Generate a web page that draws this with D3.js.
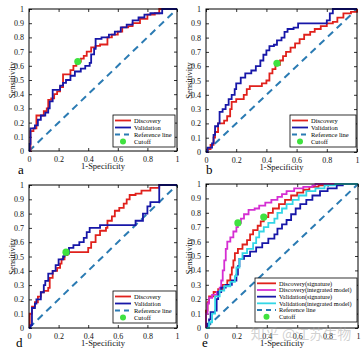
<!DOCTYPE html>
<html><head><meta charset="utf-8">
<script src="https://cdn.jsdelivr.net/npm/d3@7"></script>
<style>body{margin:0;background:#fff}svg{display:block}</style>
</head><body><svg id="c" width="364" height="356"></svg>
<script>
// ---- data ----
const panelLetters = ["a","b","d","e"];
const xTicks = [0,0.2,0.4,0.6,0.8,1];
const yTicks = [0,0.1,0.2,0.3,0.4,0.5,0.6,0.7,0.8,0.9,1];
const xTitle = "1-Specificity";
const yTitle = "Sensitivity";
const legendABD = ["Discovery","Validation","Reference line","Cutoff"];
const legendE = ["Discovery(signature)","Discovery(integrated model)","Validation(signature)","Validation(integrated model)","Reference line","Cutoff"];

const aDiscovery = [[0,0],[0.01,0.14],[0.03,0.16],[0.05,0.25],[0.09,0.25],[0.10,0.28],[0.12,0.30],[0.13,0.36],[0.15,0.37],[0.17,0.40],[0.19,0.42],[0.21,0.45],[0.23,0.54],[0.27,0.54],[0.28,0.57],[0.30,0.60],[0.32,0.63],[0.35,0.65],[0.37,0.67],[0.39,0.70],[0.42,0.73],[0.45,0.74],[0.48,0.75],[0.52,0.75],[0.53,0.80],[0.56,0.82],[0.60,0.84],[0.63,0.87],[0.67,0.88],[0.70,0.90],[0.75,0.93],[0.80,0.96],[0.85,0.97],[0.88,1.0],[1,1]];
const aValidation = [[0,0],[0.005,0.05],[0.01,0.16],[0.04,0.18],[0.06,0.22],[0.08,0.25],[0.11,0.27],[0.13,0.30],[0.14,0.35],[0.16,0.43],[0.20,0.43],[0.21,0.46],[0.23,0.48],[0.25,0.50],[0.28,0.53],[0.31,0.56],[0.35,0.58],[0.38,0.60],[0.41,0.62],[0.42,0.68],[0.44,0.72],[0.45,0.79],[0.49,0.80],[0.54,0.82],[0.58,0.84],[0.62,0.87],[0.66,0.89],[0.70,0.92],[0.74,0.94],[0.78,0.96],[0.82,0.97],[0.90,1.0],[1,1]];
const aCutoff = [[0.33,0.63]];

const bDiscovery = [[0,0],[0.01,0.02],[0.03,0.05],[0.05,0.10],[0.06,0.14],[0.08,0.20],[0.12,0.22],[0.14,0.25],[0.16,0.30],[0.17,0.35],[0.20,0.37],[0.24,0.37],[0.25,0.40],[0.27,0.44],[0.29,0.46],[0.34,0.46],[0.37,0.48],[0.40,0.50],[0.42,0.55],[0.44,0.58],[0.46,0.61],[0.49,0.64],[0.51,0.67],[0.53,0.70],[0.56,0.73],[0.59,0.76],[0.62,0.79],[0.65,0.82],[0.69,0.84],[0.72,0.86],[0.76,0.88],[0.80,0.90],[0.84,0.91],[0.87,0.94],[0.91,0.97],[0.96,0.98],[1,1]];
const bValidation = [[0,0],[0.01,0.03],[0.04,0.06],[0.05,0.12],[0.06,0.18],[0.08,0.20],[0.09,0.28],[0.11,0.30],[0.13,0.33],[0.15,0.37],[0.17,0.40],[0.19,0.44],[0.20,0.48],[0.23,0.52],[0.26,0.55],[0.30,0.57],[0.33,0.60],[0.36,0.64],[0.38,0.68],[0.40,0.71],[0.42,0.74],[0.45,0.75],[0.47,0.78],[0.50,0.80],[0.52,0.84],[0.54,0.86],[0.58,0.87],[0.61,0.90],[0.78,0.90],[0.80,0.92],[0.82,0.97],[0.84,1.0],[1,1]];
const bCutoff = [[0.47,0.62]];

const dDiscovery = [[0,0],[0.005,0.10],[0.02,0.15],[0.04,0.18],[0.06,0.22],[0.08,0.25],[0.10,0.26],[0.13,0.28],[0.14,0.35],[0.16,0.40],[0.19,0.42],[0.21,0.45],[0.22,0.48],[0.24,0.51],[0.26,0.53],[0.38,0.53],[0.40,0.56],[0.42,0.60],[0.45,0.65],[0.48,0.68],[0.52,0.70],[0.53,0.75],[0.56,0.78],[0.58,0.82],[0.61,0.84],[0.64,0.87],[0.66,0.90],[0.68,0.93],[0.72,0.94],[0.76,0.96],[0.82,0.98],[0.88,1.0],[1,1]];
const dValidation = [[0,0],[0.01,0.02],[0.02,0.14],[0.04,0.17],[0.05,0.20],[0.08,0.25],[0.10,0.30],[0.11,0.33],[0.13,0.38],[0.16,0.40],[0.18,0.44],[0.20,0.48],[0.23,0.50],[0.24,0.52],[0.27,0.56],[0.30,0.58],[0.34,0.60],[0.37,0.63],[0.39,0.67],[0.41,0.70],[0.46,0.70],[0.48,0.72],[0.70,0.72],[0.72,0.75],[0.76,0.75],[0.77,0.80],[0.80,0.85],[0.82,0.88],[0.88,0.88],[0.88,1.0],[1,1]];
const dCutoff = [[0.25,0.53]];

const eDiscSignature = [[0,0],[0,0.12],[0.01,0.18],[0.02,0.22],[0.05,0.25],[0.08,0.27],[0.11,0.30],[0.14,0.33],[0.16,0.37],[0.17,0.42],[0.18,0.47],[0.19,0.52],[0.21,0.55],[0.24,0.58],[0.27,0.61],[0.29,0.65],[0.31,0.68],[0.34,0.71],[0.36,0.74],[0.38,0.77],[0.41,0.80],[0.44,0.83],[0.48,0.86],[0.52,0.89],[0.56,0.92],[0.60,0.94],[0.64,0.96],[0.68,0.98],[0.74,0.99],[0.78,1.0],[1,1]];
const eDiscIntegrated = [[0,0],[0,0.10],[0.01,0.17],[0.02,0.21],[0.04,0.23],[0.07,0.25],[0.09,0.28],[0.10,0.33],[0.11,0.40],[0.12,0.47],[0.13,0.55],[0.14,0.60],[0.16,0.63],[0.18,0.67],[0.20,0.70],[0.21,0.73],[0.23,0.76],[0.25,0.79],[0.28,0.82],[0.32,0.83],[0.35,0.85],[0.39,0.87],[0.43,0.89],[0.47,0.91],[0.50,0.93],[0.53,0.95],[0.58,0.97],[0.64,0.98],[0.70,0.99],[0.72,1.0],[1,1]];
const eValSignature = [[0,0],[0.01,0.03],[0.02,0.06],[0.03,0.11],[0.06,0.12],[0.07,0.20],[0.08,0.25],[0.10,0.28],[0.13,0.30],[0.17,0.33],[0.20,0.37],[0.21,0.43],[0.22,0.48],[0.25,0.50],[0.29,0.53],[0.33,0.56],[0.37,0.59],[0.41,0.62],[0.45,0.65],[0.47,0.69],[0.50,0.72],[0.53,0.75],[0.56,0.79],[0.59,0.83],[0.62,0.86],[0.66,0.89],[0.70,0.92],[0.75,0.95],[0.80,0.97],[0.86,0.99],[0.90,1.0],[1,1]];
const eValIntegrated = [[0,0],[0.02,0.04],[0.04,0.10],[0.06,0.22],[0.09,0.26],[0.12,0.29],[0.16,0.32],[0.19,0.36],[0.20,0.42],[0.22,0.48],[0.24,0.52],[0.27,0.55],[0.31,0.59],[0.33,0.63],[0.35,0.67],[0.38,0.70],[0.41,0.73],[0.45,0.76],[0.47,0.80],[0.50,0.83],[0.53,0.86],[0.57,0.89],[0.61,0.92],[0.66,0.95],[0.72,0.97],[0.78,0.99],[0.85,1.0],[1,1]];
const eCutoff = [[0.21,0.73],[0.38,0.77]];
const referenceLine = [[0,0],[1,1]];
const watermark = "知乎 @江苏生物";

// ---- styles ----
const RED="#e0211c", BLUE="#1717a8", MAG="#d52ed2", CYAN="#33d6e6", REF="#2b7bb3", GREEN="#3fe23f";
const FONT="'Liberation Serif','Times New Roman',serif";

const panels = [
  {letter:panelLetters[0], box:[29,9,148,142], series:[aDiscovery,aValidation], colors:[RED,BLUE], cut:aCutoff, legend:legendABD, lbox:[113,115,62,32], lx:[18,174]},
  {letter:panelLetters[1], box:[206,9,151,143], series:[bDiscovery,bValidation], colors:[RED,BLUE], cut:bCutoff, legend:legendABD, lbox:[290,115,66,32], lx:[206,174]},
  {letter:panelLetters[2], box:[29,185,148,143], series:[dDiscovery,dValidation], colors:[RED,BLUE], cut:dCutoff, legend:legendABD, lbox:[113,291,63,32], lx:[16,347]},
  {letter:panelLetters[3], box:[206,184,152,144], series:[eDiscSignature,eDiscIntegrated,eValSignature,eValIntegrated], colors:[RED,MAG,BLUE,CYAN], cut:eCutoff, legend:legendE, lbox:[255,278,102,44], lx:[202,347]}
];

const svg = d3.select("#c");

panels.forEach(p=>{
  const [L,T,W,H] = p.box;
  const x = d3.scaleLinear().domain([0,1]).range([L,L+W]);
  const y = d3.scaleLinear().domain([0,1]).range([T+H,T]);
  const g = svg.append("g");

  const fmt = d=> d===0?"0":d===1?"1":d3.format(".1f")(d);
  g.append("g").attr("transform",`translate(0,${T+H})`)
    .call(d3.axisBottom(x).tickValues(xTicks).tickFormat(fmt).tickSizeInner(-3).tickSizeOuter(0).tickPadding(5));
  g.append("g").attr("transform",`translate(${L},0)`)
    .call(d3.axisLeft(y).tickValues(yTicks).tickFormat(fmt).tickSizeInner(-3).tickSizeOuter(0).tickPadding(5));
  g.append("g").attr("transform",`translate(0,${T})`)
    .call(d3.axisTop(x).tickValues(xTicks).tickFormat("").tickSizeInner(-3).tickSizeOuter(0));
  g.append("g").attr("transform",`translate(${L+W},0)`)
    .call(d3.axisRight(y).tickValues(yTicks).tickFormat("").tickSizeInner(-3).tickSizeOuter(0));
  g.selectAll(".domain").remove();
  g.selectAll(".tick line").attr("stroke","#000").attr("stroke-width",0.8);
  g.selectAll(".tick text").attr("font-family",FONT).attr("font-size",8).attr("fill","#111");

  const line = d3.line().x(d=>x(d[0])).y(d=>y(d[1]));
  g.append("path").attr("d",line(referenceLine)).attr("fill","none")
    .attr("stroke",REF).attr("stroke-width",2).attr("stroke-dasharray","7,5");

  const step = d3.line().x(d=>x(d[0])).y(d=>y(d[1])).curve(d3.curveStepAfter);
  p.series.forEach((s,i)=>{
    g.append("path").attr("d",step(s)).attr("fill","none")
      .attr("stroke",p.colors[i]).attr("stroke-width",1.8);
  });
  g.selectAll(".cut").data(p.cut).enter().append("circle")
    .attr("cx",d=>x(d[0])).attr("cy",d=>y(d[1])).attr("r",3.6).attr("fill",GREEN);

  g.append("rect").attr("x",L).attr("y",T).attr("width",W).attr("height",H)
    .attr("fill","none").attr("stroke","#000").attr("stroke-width",1);

  g.append("text").attr("x",L+W/2).attr("y",T+H+18).attr("text-anchor","middle")
    .attr("font-family",FONT).attr("font-size",8.5).attr("fill","#111").text(xTitle);
  g.append("text").attr("transform",`translate(${L-14},${T+H/2}) rotate(-90)`).attr("text-anchor","middle")
    .attr("font-family",FONT).attr("font-size",8.5).attr("fill","#111").text(yTitle);
  g.append("text").attr("x",p.lx[0]).attr("y",p.lx[1]).attr("font-family",FONT).attr("font-size",13).text(p.letter);

  const [bx,by,bw,bh] = p.lbox;
  const lg = g.append("g");
  lg.append("rect").attr("x",bx).attr("y",by).attr("width",bw).attr("height",bh)
    .attr("fill","#fff").attr("stroke","#000").attr("stroke-width",0.8);
  const n = p.legend.length;
  const rowH = (bh-4)/n;
  const lineColors = p.colors.concat([REF]);
  p.legend.forEach((t,i)=>{
    const cy = by+2+rowH*(i+0.5);
    const x0 = bx+2, x1 = bx+(n>4?21:18);
    if(i<n-1){
      const ln = lg.append("line").attr("x1",x0).attr("x2",x1).attr("y1",cy).attr("y2",cy)
        .attr("stroke",lineColors[i]).attr("stroke-width",1.8);
      if(i===n-2) ln.attr("stroke-dasharray","5,4");
    } else {
      lg.append("circle").attr("cx",(x0+x1)/2).attr("cy",cy).attr("r",3).attr("fill",GREEN);
    }
    lg.append("text").attr("x",x1+3).attr("y",cy+2.2).attr("font-family",FONT)
      .attr("font-size",n>4?6.3:6.5).text(t);
  });
});

// watermark (semi-transparent, as in the reference)
svg.append("text").attr("x",301).attr("y",339).attr("text-anchor","middle")
  .attr("font-family","'Noto Sans CJK SC',sans-serif").attr("font-size",14)
  .attr("fill","#aaa").attr("fill-opacity",0.55).text(watermark);
</script></body></html>
